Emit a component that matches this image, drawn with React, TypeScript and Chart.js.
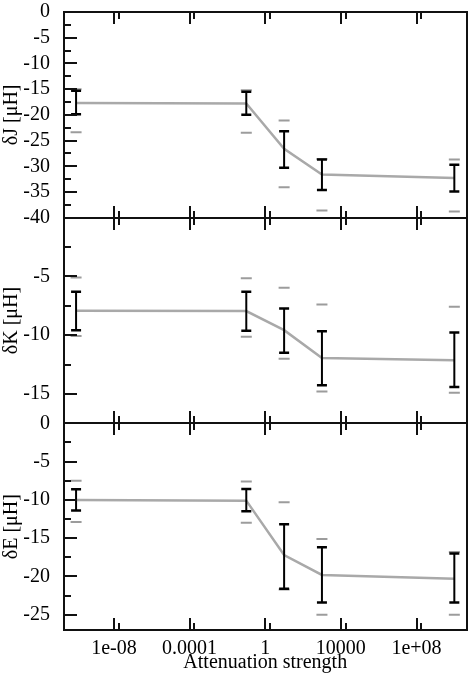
import React, { useEffect, useRef } from 'react';
import { Chart, registerables } from 'chart.js';

Chart.register(...registerables);

// ---------- data ----------
const xValues = [1e-10, 0.1, 10, 1000, 1e10];
const xTickValues = [1e-8, 1e-4, 1, 1e4, 1e8];
const xTickLabels = ['1e-08', '0.0001', '1', '10000', '1e+08'];
const xAxisTitle = 'Attenuation strength';

const jTitle = 'δJ [μH]';
const jMean = [-17.7, -17.8, -26.6, -31.6, -32.3];
const jErrHi = [-15.3, -15.5, -23.2, -28.7, -29.7];
const jErrLo = [-19.9, -20.0, -30.3, -34.6, -34.9];
const jGreyHi = [-15.0, -15.2, -21.1, -28.6, -28.7];
const jGreyLo = [-23.4, -23.5, -34.1, -38.6, -38.8];
const jTicks = [-40, -35, -30, -25, -20, -15, -10, -5, 0];

const kTitle = 'δK [μH]';
const kMean = [-7.92, -7.95, -9.57, -11.94, -12.14];
const kErrHi = [-6.3, -6.3, -7.72, -9.66, -9.77];
const kErrLo = [-9.57, -9.63, -11.5, -14.27, -14.4];
const kGreyHi = [-5.1, -5.16, -5.96, -7.38, -7.58];
const kGreyLo = [-10.06, -10.14, -12.0, -14.8, -14.9];
const kTicks = [-15, -10, -5];

const eTitle = 'δE [μH]';
const eMean = [-10.0, -10.1, -17.2, -19.8, -20.3];
const eErrHi = [-8.6, -8.57, -13.2, -16.2, -17.0];
const eErrLo = [-11.4, -11.5, -21.6, -23.4, -23.4];
const eGreyHi = [-7.5, -7.6, -10.3, -15.1, -16.8];
const eGreyLo = [-12.9, -13.0, -21.7, -25.0, -25.0];
const eTicks = [-25, -20, -15, -10, -5, 0];

const panels = [
  { id: 'y1', title: jTitle, min: -40, max: 0, weight: 206, ticks: jTicks, mean: jMean, hi: jErrHi, lo: jErrLo, gHi: jGreyHi, gLo: jGreyLo },
  { id: 'y2', title: kTitle, min: -17.5, max: 0, weight: 206, ticks: kTicks, mean: kMean, hi: kErrHi, lo: kErrLo, gHi: kGreyHi, gLo: kGreyLo },
  { id: 'y3', title: eTitle, min: -27, max: 0, weight: 207, ticks: eTicks, mean: eMean, hi: eErrHi, lo: eErrLo, gHi: eGreyHi, gLo: eGreyLo },
];

const SERIF = "'Liberation Serif', 'Times New Roman', Times, serif";
const FRAME = '#111';

const framePlugin = {
  id: 'framePlugin',
  afterDatasetsDraw(chart: any) {
    const { ctx, chartArea: a, scales } = chart;
    const xs = scales.x;
    const L = Math.round(a.left);
    const R = Math.round(a.right);
    ctx.save();
    ctx.strokeStyle = FRAME;
    ctx.lineWidth = 2;
    ctx.lineCap = 'butt';
    const line = (x1: number, y1: number, x2: number, y2: number) => {
      ctx.beginPath();
      ctx.moveTo(x1, y1);
      ctx.lineTo(x2, y2);
      ctx.stroke();
    };
    let top = Infinity;
    let bot = -Infinity;
    panels.forEach((p) => {
      const s = scales[p.id];
      const T = Math.round(s.top);
      const B = Math.round(s.bottom);
      top = Math.min(top, T);
      bot = Math.max(bot, B);
      line(L - 1, T, R + 1, T);
      line(L - 1, B, R + 1, B);
      xTickValues.forEach((v) => {
        const px = Math.round(xs.getPixelForValue(v));
        const pm = Math.round(xs.getPixelForValue(v * 1.8));
        line(px, T, px, T + 12);
        line(pm, T, pm, T + 7);
        line(px, B, px, B - 12);
        line(pm, B, pm, B - 7);
      });
      for (let v = p.max; v >= p.min - 1e-9; v -= 2.5) {
        const py = Math.round(s.getPixelForValue(v));
        const major = Math.abs(v % 5) < 1e-9;
        line(L, py, L + (major ? 13 : 7), py);
      }
    });
    line(L, top - 1, L, bot + 1);
    line(R, top - 1, R, bot + 1);
    ctx.restore();
  },
};

export default function App() {
  const ref = useRef<HTMLCanvasElement>(null);

  useEffect(() => {
    const canvas = ref.current;
    if (!canvas) return;

    const datasets: any[] = [];
    panels.forEach((p) => {
      datasets.push({
        label: p.id + '-caps',
        yAxisID: p.id,
        xAxisID: 'x',
        data: [
          ...xValues.map((x, i) => ({ x, y: p.hi[i] })),
          ...xValues.map((x, i) => ({ x, y: p.lo[i] })),
        ],
        showLine: false,
        pointStyle: 'line',
        pointRadius: 5,
        pointBorderWidth: 2.5,
        pointBorderColor: '#000',
        borderColor: '#000',
        backgroundColor: '#000',
      });
      const stems: any[] = [];
      xValues.forEach((x, i) => {
        stems.push({ x, y: p.lo[i] }, { x, y: p.hi[i] }, { x, y: null });
      });
      datasets.push({
        label: p.id + '-stems',
        yAxisID: p.id,
        xAxisID: 'x',
        data: stems,
        showLine: true,
        spanGaps: false,
        borderColor: '#000',
        borderWidth: 2,
        pointRadius: 0,
      });
      datasets.push({
        label: p.id + '-mean',
        yAxisID: p.id,
        xAxisID: 'x',
        data: xValues.map((x, i) => ({ x, y: p.mean[i] })),
        showLine: true,
        borderColor: '#a9a9a9',
        borderWidth: 2.5,
        pointRadius: 0,
        tension: 0,
      });
      datasets.push({
        label: p.id + '-grey',
        yAxisID: p.id,
        xAxisID: 'x',
        data: [
          ...xValues.map((x, i) => ({ x, y: p.gHi[i] })),
          ...xValues.map((x, i) => ({ x, y: p.gLo[i] })),
        ],
        showLine: false,
        pointStyle: 'line',
        pointRadius: 5.5,
        pointBorderWidth: 2,
        pointBorderColor: '#9c9c9c',
        borderColor: '#9c9c9c',
        backgroundColor: '#9c9c9c',
      });
    });

    const scales: any = {
      x: {
        type: 'logarithmic',
        position: 'bottom',
        min: 2.3e-11,
        max: 4.4e10,
        grid: { display: false },
        border: { display: false },
        afterBuildTicks: (s: any) => {
          s.ticks = xTickValues.map((v) => ({ value: v }));
        },
        afterFit: (s: any) => {
          s.height = 45;
          s.paddingLeft = 0;
          s.paddingRight = 0;
        },
        ticks: {
          autoSkip: false,
          maxRotation: 0,
          padding: -1,
          color: '#000',
          font: { family: SERIF, size: 20, lineHeight: 1.2 },
          callback: (value: number) => {
            const idx = xTickValues.findIndex((v) => Math.abs(Math.log10(v) - Math.log10(value)) < 1e-6);
            return idx >= 0 ? xTickLabels[idx] : '';
          },
        },
        title: {
          display: true,
          text: xAxisTitle,
          color: '#000',
          font: { family: SERIF, size: 20, lineHeight: 1 },
          padding: { top: 0, bottom: 2 },
        },
      },
    };
    // stacked axes are placed bottom-up, so add them in reverse order
    [...panels].reverse().forEach((p) => {
      scales[p.id] = {
        type: 'linear',
        position: 'left',
        stack: 'panels',
        stackWeight: p.weight,
        min: p.min,
        max: p.max,
        grid: { display: false },
        border: { display: false },
        afterBuildTicks: (s: any) => {
          s.ticks = p.ticks.map((v) => ({ value: v }));
        },
        afterFit: (s: any) => {
          s.width = 64;
          s.paddingTop = 0;
          s.paddingBottom = 0;
        },
        ticks: {
          autoSkip: false,
          padding: 6,
          color: '#000',
          font: { family: SERIF, size: 20, lineHeight: 1.2 },
          callback: (value: number) => String(value),
        },
        title: {
          display: true,
          text: p.title,
          color: '#000',
          font: { family: SERIF, size: 20, lineHeight: 1 },
          padding: { top: 2, bottom: 0 },
        },
      };
    });

    const chart = new Chart(canvas, {
      type: 'scatter',
      data: { datasets },
      options: {
        animation: false,
        responsive: false,
        maintainAspectRatio: false,
        devicePixelRatio: 1,
        layout: { padding: { top: 12, right: 2, bottom: 0, left: 0 } },
        plugins: { legend: { display: false }, tooltip: { enabled: false } },
        scales,
      },
      plugins: [framePlugin],
    } as any);

    return () => chart.destroy();
  }, []);

  return (
    <div style={{ position: 'fixed', left: 0, top: 0, width: 474, height: 675, background: '#fff' }}>
      <canvas ref={ref} width={474} height={675} style={{ display: 'block', width: 474, height: 675 }} />
    </div>
  );
}
